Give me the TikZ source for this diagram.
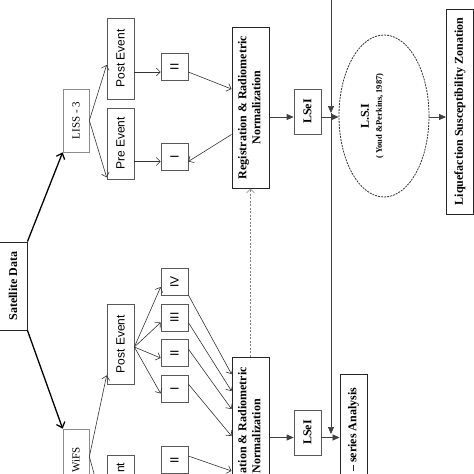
\documentclass[tikz,border=0pt]{standalone}
\usepackage{fontspec}
\setmainfont{Liberation Serif}
\newfontfamily\arialfont{Liberation Sans}
\usepackage{graphicx}
\usetikzlibrary{arrows.meta,shapes.geometric,calc}

\newcommand{\vtxt}[1]{\rotatebox{90}{#1}}

\tikzset{
  box/.style={draw=black!65, line width=0.7pt, inner sep=0pt},
  rbox/.style={box, minimum width=27, minimum height=27, font=\arialfont\fontsize{12}{14}\selectfont},
  evbox/.style={box, minimum width=27, font=\arialfont\fontsize{12}{14}\selectfont},
  bbox/.style={draw=black!85, line width=0.9pt, inner sep=0pt, font=\fontsize{12}{14}\selectfont\bfseries},
  cuttxt/.style={inner sep=0pt, anchor=south},
  arr/.style={draw=black!80, line width=0.6pt, -{Straight Barb[length=4pt,width=8pt]}},
  thickarr/.style={draw=black, line width=1.3pt, -{Straight Barb[length=5pt,width=9pt]}},
  triarr/.style={draw=black!75, line width=0.7pt, -{Triangle[length=7pt,width=6pt]}},
  dasharr/.style={draw=black!50, line width=0.6pt, dash pattern=on 2pt off 1.5pt, -{Straight Barb[length=4pt,width=8pt]}},
}

\begin{document}
\begin{tikzpicture}[x=1pt,y=-1pt]
\useasboundingbox (0,0) rectangle (474,474);
\clip (0,0) rectangle (474,474);

% source and sensors
\node[bbox, minimum width=28, minimum height=88] (sat) at (13,286) {\vtxt{Satellite Data}};
\node[box, draw=black!45, minimum width=26, minimum height=63, font=\fontsize{11}{13}\selectfont] (liss) at (76,120.5) {\vtxt{LISS - 3}};
\node[box, draw=black!45, minimum width=26, minimum height=74] (wifs) at (76,466) {};
\node[cuttxt, font=\fontsize{11}{13}\selectfont] (wifstxt) at (76,473) {\vtxt{WiFS}};

% event scenes
\node[evbox, minimum height=81] (postA) at (120.5,58.5) {\vtxt{Post Event}};
\node[evbox, minimum height=71] (preA) at (120.5,143.5) {\vtxt{Pre Event}};
\node[evbox, minimum height=80] (postB) at (120.5,344) {\vtxt{Post Event}};
\node[evbox, minimum height=66] (preB) at (120.5,488) {};
\node[cuttxt, font=\arialfont\fontsize{12}{14}\selectfont] (pretxt) at (120.5,473) {\vtxt{nt}};

% image numbers
\foreach \nm/\lbl/\y in {iiA/II/67, iA/I/156.5, ivB/IV/282, iiiB/III/317.5, iiB/II/353, iB/I/388.5, iiC/II/460}
  \node[rbox] (\nm) at (174.5,\y) {\vtxt{\lbl}};

% processing chain
\node[bbox, line width=1pt, minimum width=37, minimum height=161] (regA) at (250.5,107.5)
  {\vtxt{\begin{tabular}{@{}c@{}}Registration \& Radiometric\\Normalization\end{tabular}}};
\node[bbox, line width=1pt, minimum width=37, minimum height=161] (regB) at (250.5,437.5) {};
\node[cuttxt, font=\fontsize{12}{14}\selectfont\bfseries] (regtxt) at (250.5,473.5)
  {\vtxt{\begin{tabular}{@{}l@{}}ation \& Radiometric\\Normalization\end{tabular}}};
\node[bbox, draw=black!65, line width=0.7pt, minimum width=27, minimum height=45] (lseiA) at (307.5,111.5) {\vtxt{LSeI}};
\node[bbox, draw=black!65, line width=0.7pt, minimum width=27, minimum height=45] (lseiB) at (307.5,432.5) {\vtxt{LSeI}};
\node[ellipse, draw=black!80, line width=0.8pt, dash pattern=on 2pt off 1pt, inner sep=0pt,
  minimum width=90, minimum height=162] (lsi) at (384,116) {};
\node[inner sep=0pt, font=\bfseries] (lsitxt) at (373,116)
  {\vtxt{\begin{tabular}{@{}c@{}}\fontsize{12}{14}\selectfont L.S.I\\[1pt]\fontsize{8.5}{10}\selectfont ( Youd \&Perkins, 1987)\end{tabular}}};
\node[bbox, minimum width=27, minimum height=205] (zon) at (460,111.5) {\vtxt{Liquefaction Susceptibility Zonation}};
\node[bbox, minimum width=27, minimum height=134] (tsa) at (353.5,441) {};
\node[cuttxt, font=\fontsize{12}{14}\selectfont\bfseries] (tsatxt) at (353.5,472) {\vtxt{-- series Analysis}};

\coordinate (vtop) at (331,-2);
\coordinate (vmid) at (331,113);
\coordinate (vbot) at (331,434);

% connectors
\draw[thickarr] (sat.north east) -- (liss.south west);
\draw[thickarr] (sat.south east) -- (wifs.north west);

\draw[arr] (liss.east) -- ($(postA.west)+(0,6.5)$);
\draw[arr] (liss.east) -- ($(preA.south west)+(0,-2)$);
\draw[arr] ($(wifs.north east)+(0,28)$) -- ($(postB.south west)+(0,-9)$);
\draw[arr] ($(wifs.north east)+(0,28)$) -- ($(preB.south west)+(0,-2)$);

\draw[arr] ($(postA.east |- iiA.west)+(0,5)$) -- ($(iiA.west)+(0,5)$);
\draw[arr] ($(preA.east |- iA.west)+(0,5)$) -- ($(iA.west)+(0,5)$);
\draw[arr] ($(iiA.east)+(0,5)$) -- ($(regA.west)+(0,-18.5)$);
\draw[arr] ($(regA.west)+(0,27)$) -- ($(iA.east)+(0,5)$);

\foreach \nm in {ivB,iiiB,iiB,iB}
  \draw[arr] ($(postB.east)+(0,3)$) -- ($(\nm.west)+(0,5)$);
\foreach \nm/\a/\b in {ivB/13/-63.5, iiiB/5/-46.5, iiB/-4/-28.5, iB/-4.5/-1.5, iiC/-4/33.5}
  \draw[arr] ($(\nm.east)+(0,\a)$) -- ($(regB.west)+(0,\b)$);

\draw[dasharr] (regB.north) -- (regA.south);

\draw[triarr] ($(regA.east)+(0,9.5)$) -- ($(lseiA.west)+(0,5.5)$);
\draw[triarr] ($(lseiA.east)+(0,5.5)$) -- ($(lsi.west)+(0,1)$);
\draw[triarr] ($(lsi.east)+(0,1)$) -- ($(zon.west)+(0,5.5)$);
\draw[triarr] (regB.east) -- ($(lseiB.west)+(0,5)$);
\draw[triarr] ($(lseiB.east)+(0,5)$) -- ($(tsa.west)+(0,-3.5)$);

\draw[triarr] (vtop) -- (vmid);
\draw[triarr] (vmid) -- (vbot);

\end{tikzpicture}
\end{document}
